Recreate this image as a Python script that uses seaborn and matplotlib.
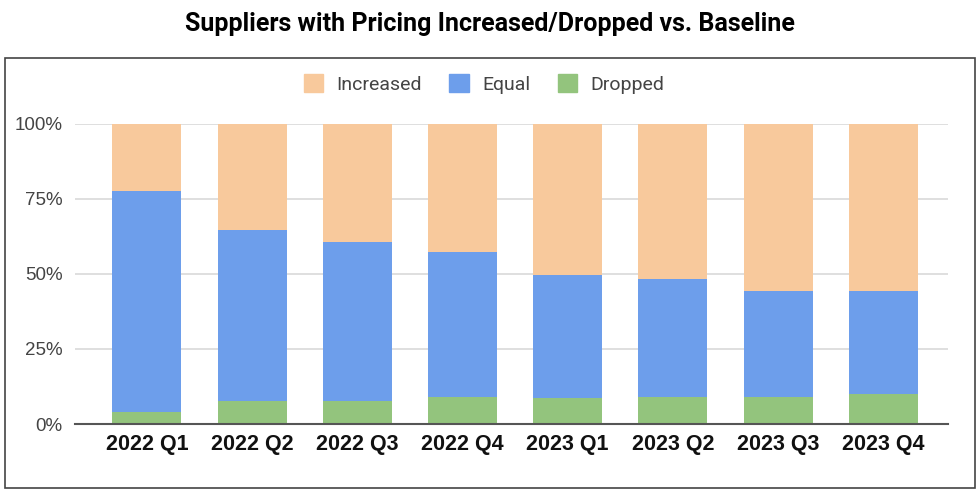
import matplotlib
matplotlib.use("Agg")
import matplotlib.pyplot as plt
from matplotlib.patches import Patch, Rectangle
import seaborn as sns
import pandas as pd

# values (percent of suppliers)
quarters = ["2022 Q1", "2022 Q2", "2022 Q3", "2022 Q4",
            "2023 Q1", "2023 Q2", "2023 Q3", "2023 Q4"]
dropped = [4.0, 7.8, 7.8, 8.9, 8.5, 9.0, 9.0, 10.1]
equal = [73.6, 56.9, 52.9, 48.4, 41.0, 39.4, 35.4, 34.3]
increased = [22.4, 35.3, 39.3, 42.7, 50.5, 51.6, 55.6, 55.6]

c_inc = "#f8c99c"
c_eq = "#6d9eeb"
c_drop = "#93c47d"

df = pd.DataFrame({"quarter": quarters, "Dropped": dropped,
                   "Equal": equal, "Increased": increased})
df["eq_top"] = df["Dropped"] + df["Equal"]
df["inc_top"] = df["eq_top"] + df["Increased"]

sns.set_theme(style="white")
plt.rcParams["font.family"] = ["Liberation Sans", "DejaVu Sans"]

fig = plt.figure(figsize=(9.8, 4.94), dpi=100)
ax = fig.add_axes([0.0765, 0.1417, 0.8905, 0.6073])

# stacked bars: draw cumulative totals from tallest to shortest
for col, color in [("inc_top", c_inc), ("eq_top", c_eq), ("Dropped", c_drop)]:
    sns.barplot(data=df, x="quarter", y=col, color=color, width=0.656,
                saturation=1, ax=ax, linewidth=0)

ax.set_ylim(0, 100)
ax.set_xlim(-0.684, 7.613)
ax.set_yticks([0, 25, 50, 75, 100])
ax.set_yticklabels(["0%", "25%", "50%", "75%", "100%"], fontsize=13.5, color="#444444")
ax.set_xticks(range(len(quarters)))
ax.set_xticklabels(quarters, fontsize=15.5, fontweight="bold", color="#111111")
ax.set_xlabel("")
ax.set_ylabel("")
ax.yaxis.grid(True, color="#d9d9d9", linewidth=1.2)
ax.set_axisbelow(True)
for s in ["top", "right", "left"]:
    ax.spines[s].set_visible(False)
ax.spines["bottom"].set_color("#555555")
ax.spines["bottom"].set_linewidth(1.5)
ax.tick_params(axis="y", length=0, pad=9)
ax.tick_params(axis="x", length=0, pad=7)

handles = [Patch(color=c_inc, label="Increased"),
           Patch(color=c_eq, label="Equal"),
           Patch(color=c_drop, label="Dropped")]
fig.legend(handles=handles, loc="center", bbox_to_anchor=(0.494, 0.83), ncol=3,
           frameon=False, prop={"family": ["Roboto", "DejaVu Sans"], "size": 14},
           labelcolor="#444444", handlelength=1.0, handleheight=1.0,
           columnspacing=1.4, handletextpad=0.7)

# outer chart border
fig.patches.append(Rectangle((5 / 980, 6 / 494), 970 / 980, 430 / 494,
                             transform=fig.transFigure, fill=False,
                             edgecolor="#444444", linewidth=1.2))

fig.text(0.5, 0.975, "Suppliers with Pricing Increased/Dropped vs. Baseline",
         ha="center", va="top", fontsize=18, fontweight="bold", color="black",
         family=["DejaVu Sans Condensed", "Roboto"])

fig.savefig("out.png", dpi=100)
